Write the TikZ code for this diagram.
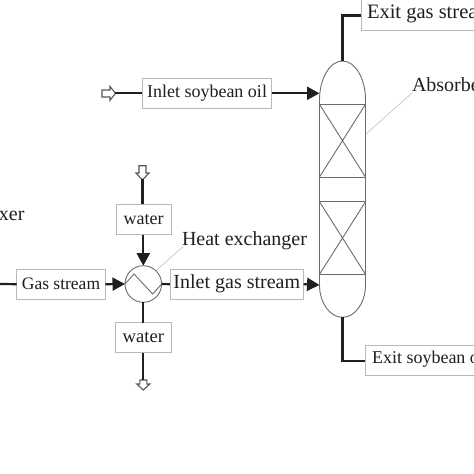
\documentclass[tikz,border=0pt]{standalone}
\usepackage{fontspec}
\setmainfont{Liberation Serif}
\usetikzlibrary{arrows.meta}
\definecolor{boxgray}{gray}{0.72}
\definecolor{vesselgray}{gray}{0.42}
\definecolor{leadgray}{gray}{0.75}
\definecolor{ink}{gray}{0.12}
\tikzset{
  x=1pt,y=-1pt,
  box/.style={draw=boxgray,line width=0.9pt,fill=white,inner sep=0pt,outer sep=0pt,text=ink,font=\fontsize{18}{20}\selectfont},
  label/.style={inner sep=0pt,outer sep=0pt,text=ink,font=\fontsize{20}{22}\selectfont,anchor=west},
  pipe/.style={draw=ink,line width=2.2pt},
  flow/.style={pipe,-{Triangle[length=12.5pt,width=13pt]}},
  vessel/.style={draw=vesselgray,line width=0.9pt},
  leader/.style={draw=leadgray,line width=0.6pt},
  hollow/.style={draw=vesselgray!80!black,fill=white,line width=1.1pt,line join=miter}
}
\begin{document}
\begin{tikzpicture}
\useasboundingbox (0,0) rectangle (474,474);
\clip (0,0) rectangle (474,474);
% boxes
\node[box,minimum width=129.4pt,minimum height=30pt] (soy) at (207,93.3) {Inlet soybean oil};
\node[box,minimum width=55.3pt,minimum height=30.4pt] (wtop) at (143.6,219.5) {water};
\node[box,minimum width=56pt,minimum height=30pt,font=\fontsize{18.6}{20}\selectfont] (wbot) at (143.3,337.7) {water};
\node[box,minimum width=88.6pt,minimum height=30.3pt,font=\fontsize{17.5}{20}\selectfont] (gas) at (61,284.2) {Gas stream};
\node[box,minimum width=133.7pt,minimum height=30.3pt,font=\fontsize{20}{22}\selectfont] (inlet) at (236.8,284.2) {Inlet gas stream};
\node[box,minimum width=150pt,minimum height=36pt] (exitgas) at (436.3,12) {};
\node[box,minimum width=150pt,minimum height=30pt] (exitsoy) at (440,360.7) {};
\node[label,font=\fontsize{20.5}{22}\selectfont] (exitgastxt) at (367,14) {Exit gas strea};
\node[label,font=\fontsize{18}{20}\selectfont] (exitsoytxt) at (372,359.5) {Exit soybean o};
\node[label] (absorber) at (412,85) {Absorbe};
\node[label] (hxtxt) at (182,241) {Heat exchanger};
\node[label,anchor=east] (mixer) at (24.5,215.5) {xer};
% absorber vessel
\coordinate (towertop) at (342.5,61);
\coordinate (towerbot) at (342.5,317.3);
\coordinate (soyin) at (319.5,93.3);
\coordinate (gasin) at (319.5,285);
\coordinate (leadA) at (366,134);
\coordinate (leadB) at (412,93);
\coordinate (leadC) at (156.7,270);
\coordinate (leadD) at (183,246.7);
\draw[vessel] (319.5,104.3) -- (319.5,100) .. controls (319.5,78.5) and (329.8,61) .. (towertop) .. controls (355.2,61) and (365.5,78.5) .. (365.5,100) -- (365.5,285) .. controls (365.5,302.7) and (355.2,317.3) .. (towerbot) .. controls (329.8,317.3) and (319.5,302.7) .. (319.5,285) -- cycle;
\draw[vessel] (319.5,104.3) rectangle (365.5,177);
\draw[vessel] (319.5,104.3) -- (365.5,177) (365.5,104.3) -- (319.5,177);
\draw[vessel] (319.5,201.7) rectangle (365.5,274.3);
\draw[vessel] (319.5,201.7) -- (365.5,274.3) (365.5,201.7) -- (319.5,274.3);
% heat exchanger
\node[circle,draw=vesselgray,line width=0.9pt,minimum size=36.6pt,inner sep=0pt,outer sep=0pt] (hx) at (143.3,284) {};
\coordinate (z1) at (134,274);
\coordinate (z2) at (152.7,294);
\draw[vessel] (hx.west) -- (z1) -- (z2) -- (hx.east);
% leaders
\draw[leader] (leadA) -- (leadB);
\draw[leader] (leadC) -- (leadD);
% terminals
\coordinate (soytail) at (115,93.3);
\coordinate (gastail) at (0,284);
\coordinate (wtoptail) at (142.5,179);
\coordinate (wbottail) at (143.3,380);
\draw[hollow] (102,90) -- (110,90) -- (110,86.5) -- (115.5,93.3) -- (110,100.3) -- (110,97) -- (102,97) -- cycle;
\draw[hollow] (139,165.7) -- (146,165.7) -- (146,173) -- (149,173) -- (142.5,180) -- (136,173) -- (139,173) -- cycle;
\draw[hollow] (139.8,380) -- (146.8,380) -- (146.8,384) -- (149.8,384) -- (143.3,390) -- (136.8,384) -- (139.8,384) -- cycle;
% pipes
\draw[pipe] (soytail) -- (soy.west);
\draw[flow] (soy.east) -- (soyin);
\draw[pipe] (wtoptail) -- (wtoptail |- wtop.north);
\draw[flow] (wtop.south -| hx.north) -- (hx.north);
\draw[pipe] (gastail) -- (gas.west);
\draw[flow] (gas.east) -- (hx.west);
\draw[pipe] (hx.east) -- (inlet.west);
\draw[flow] (inlet.east) -- (gasin);
\draw[pipe] (hx.south) -- (wbot.north -| hx.south);
\draw[pipe] (wbot.south -| wbottail) -- (wbottail);
\draw[pipe,line join=miter] (towertop) -- (342.5,15.5) -- (exitgas.west |- 342.5,15.5);
\draw[pipe,line join=miter] (towerbot) -- (342.5,360.7) -- (exitsoy.west);
\end{tikzpicture}
\end{document}
